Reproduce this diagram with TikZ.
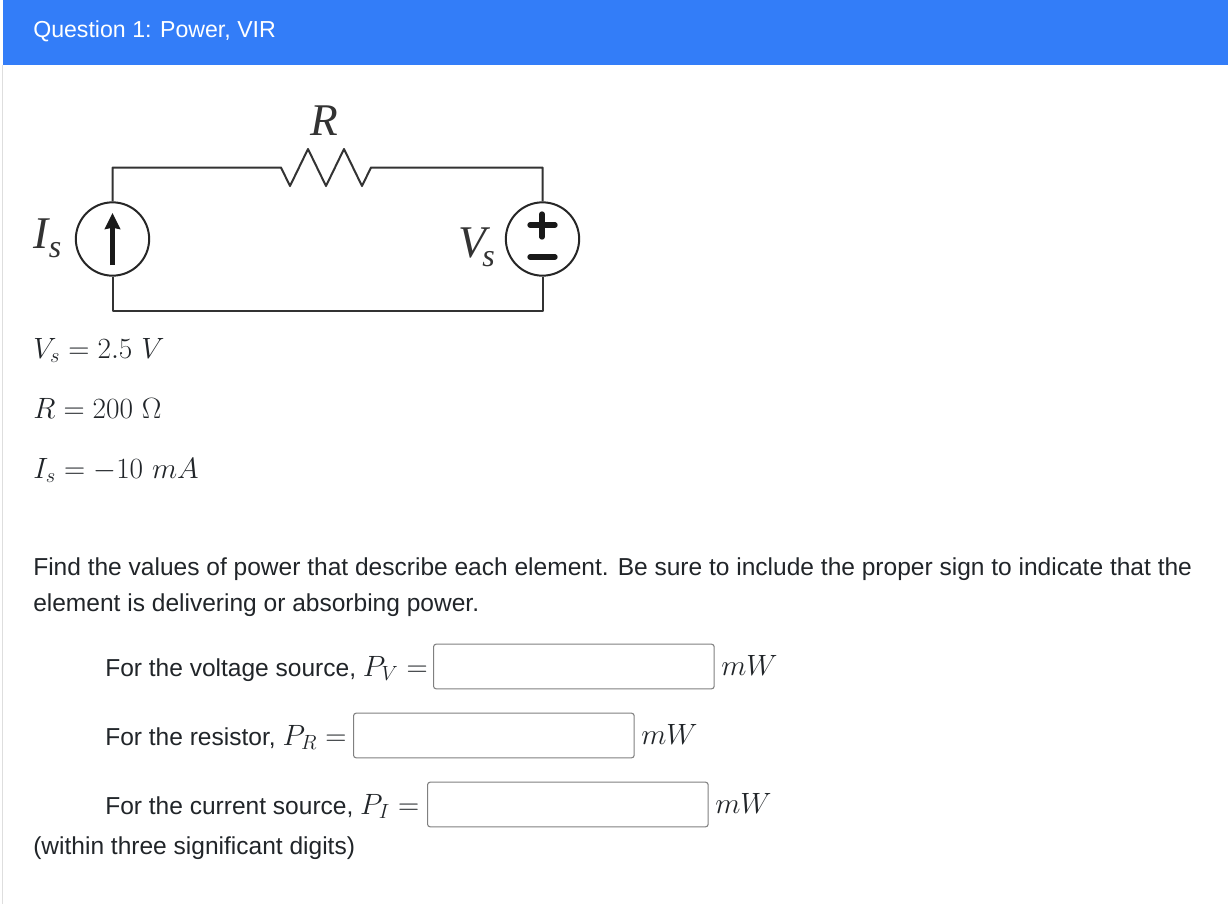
\documentclass[tikz,border=0pt]{standalone}
\usepackage{fix-cm}
\usepackage{fontspec}
\setsansfont{Liberation Sans}
\newfontfamily\labfont{Liberation Serif}
\usepackage{tikz}
\usetikzlibrary{positioning,calc,arrows.meta}
\definecolor{inktxt}{HTML}{212529}
\definecolor{headblue}{HTML}{337DF8}

\newcommand{\sublab}[3]{\textit{#1}\kern#3\raisebox{-7pt}{\fontsize{24}{24}\selectfont\textit{#2}}}

\tikzset{
    txt/.style={inner sep=0pt,anchor=base west,font=\sffamily\fontsize{18.4}{22}\selectfont,text=inktxt},
    eqn/.style={inner sep=0pt,anchor=base west,font=\fontsize{22}{26}\selectfont,text=inktxt},
    lbl/.style={inner sep=0pt,anchor=base west,font=\labfont\fontsize{34}{38}\selectfont,text=black!80},
    wire/.style={line width=1.5pt,black!80,line join=round},
    src/.style={draw=black!85,circle,line width=1.5pt,minimum size=55pt,inner sep=0pt},
    sign/.style={line width=4pt,line cap=round,black!90},
    ansbox/.style={draw=black!50,fill=white,rounded corners=2pt,line width=0.8pt,minimum width=210.5pt,minimum height=33.5pt,inner sep=0pt,anchor=west}
}

\begin{document}
\begin{tikzpicture}[x=0.75pt,y=-0.75pt]
    \useasboundingbox (0,0) rectangle (1228,904);
    \fill[white] (0,0) rectangle (1228,904);
    \fill[black!13] (2,65) rectangle (3,904);
    \node [fill=headblue,minimum width=918.75pt,minimum height=48.75pt,inner sep=0pt,anchor=north west] (Head) at (3,0) {};
    \node [txt,text=white,font=\sffamily\fontsize{17.35}{22}\selectfont] (Title) at (33,37) {Question 1: Power, VIR};

    % circuit
    \node [src] (Is) at (112.5,239) {};
    \node [src] (Vs) at (542.5,239) {};
    \coordinate (TL) at (112.5,167.5);
    \coordinate (TR) at (542.5,167.5);
    \coordinate (BL) at (112.5,311);
    \coordinate (BR) at (542.5,311);
    \coordinate (Ra) at (281,167.5);
    \coordinate (Rb) at (371,167.5);
    \draw [wire] (Is.north) -- (TL) -- (Ra) -- (290,186) -- (308,149) -- (326,186) -- (344,149) -- (362,186) -- (Rb) -- (TR) -- (Vs.north);
    \draw [wire] (Is.south) -- (BL) -- (BR) -- (Vs.south);
    \draw [line width=3.2pt,black!90,-{Stealth[length=12pt,width=11.5pt,inset=1pt]}] (112.5,265) -- (112.5,213);
    \draw [sign] (530,225) -- (555,225);
    \draw [sign] (542,214) -- (542,237);
    \draw [sign] (530,257) -- (555,257);
    \node [lbl] (Rlab) at (310,135) {\textit{R}};
    \node [lbl] (Ilab) at (33,248) {\sublab{I}{s}{-1pt}};
    \node [lbl] (Vlab) at (458,257) {\sublab{V}{s}{-6pt}};

    % given values
    \node [eqn] (Eq1) at (33,358) {$V_s = 2.5\ V$};
    \node [eqn] (Eq2) at (33,418) {$R = 200\ \Omega$};
    \node [eqn] (Eq3) at (33,478) {$I_s = -10\ mA$};

    \node [txt] (Find1) at (33,575) {Find the values of power that describe each element. Be sure to include the proper sign to indicate that the};
    \node [txt] (Find2) at (33,611) {element is delivering or absorbing power.};

    % answers
    \node [txt] (Av) at (105,676) {For the voltage source, \fontsize{22}{26}\selectfont$P_V =$};
    \node [ansbox] (Bv) at (433,666.5) {};
    \node [eqn] (Uv) at (721,675) {$mW$};
    \node [txt] (Ar) at (105,745) {For the resistor, \fontsize{22}{26}\selectfont$P_R =$};
    \node [ansbox] (Br) at (353,735.5) {};
    \node [eqn] (Ur) at (641,744) {$mW$};
    \node [txt] (Ai) at (105,814) {For the current source, \fontsize{22}{26}\selectfont$P_I =$};
    \node [ansbox] (Bi) at (427,804.5) {};
    \node [eqn] (Ui) at (715,813) {$mW$};
    \node [txt] (Note) at (33,854) {(within three significant digits)};
\end{tikzpicture}
\end{document}
